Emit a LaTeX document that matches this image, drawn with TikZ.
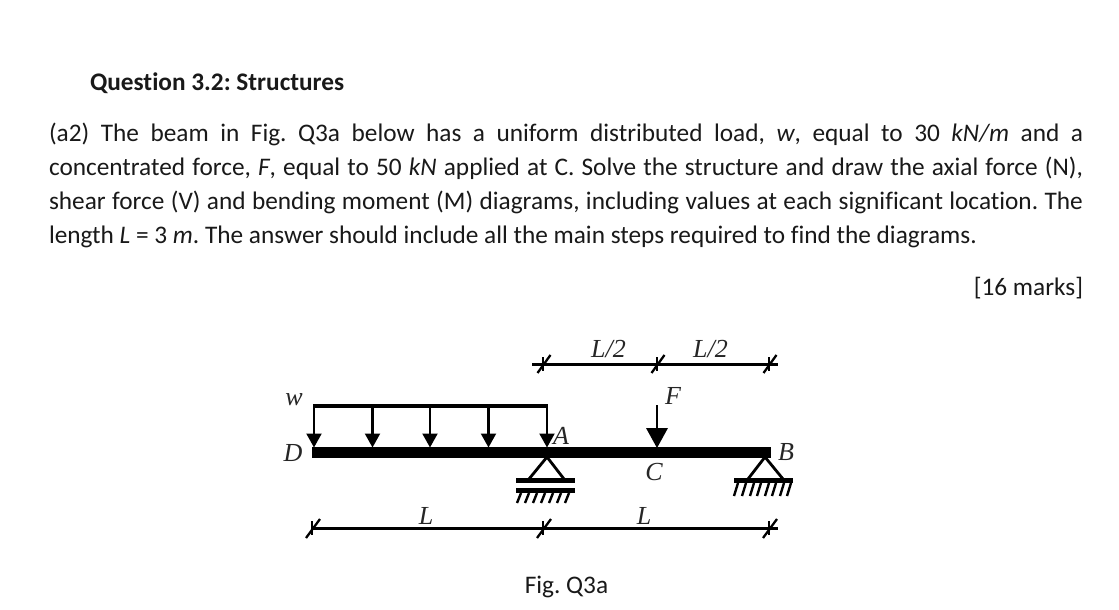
\documentclass[tikz,border=0pt]{standalone}
\usepackage{fontspec}
\setmainfont{Carlito}[Ligatures=NoCommon]
\newfontfamily\serifl{Liberation Serif}
\usetikzlibrary{arrows.meta}
\tikzset{
  x=1pt,y=-1pt,
  body/.style={anchor=base west,inner sep=0pt,outer sep=0pt,font=\fontsize{25.3}{28}\selectfont,text=black!90},
  lab/.style={inner sep=0pt,outer sep=0pt,font=\fontsize{26}{28}\selectfont\serifl\itshape,text=black!85},
  load/.style={line width=2.2pt,-{Triangle[length=14pt,width=15pt]},shorten >=-0.5pt},
  dim/.style={line width=3pt},
  tick/.style={line width=2.3pt},
  vtick/.style={line width=1.2pt},
  plate/.style={fill=black,draw=none},
  supp/.style={line width=2.8pt,line join=miter},
  hatch/.style={line width=2.4pt}
}
\newcommand{\jline}[1]{\hbox to 1034pt{#1}}
\frenchspacing
\begin{document}
\begin{tikzpicture}
\useasboundingbox (0,0) rectangle (1119,610);
\fill[white] (0,0) rectangle (1119,610);
% text
\node[body,font=\fontsize{25.3}{28}\selectfont\bfseries] (title) at (90,90) {Question 3.2: Structures};
\node[body] (l1) at (49,141) {\jline{(a2) The beam in Fig. Q3a below has a uniform distributed load, \textit{w}, equal to 30 \textit{kN/m} and a}};
\node[body] (l2) at (49,175) {\jline{concentrated force, \textit{F}, equal to 50 \textit{kN} applied at C. Solve the structure and draw the axial force (N),}};
\node[body] (l3) at (49,209) {\jline{shear force (V) and bending moment (M) diagrams, including values at each significant location. The}};
\node[body] (l4) at (49,243) {length \textit{L} = 3 \textit{m}. The answer should include all the main steps required to find the diagrams.};
\node[body,anchor=base east] (marks) at (1083,295) {[16 marks]};
\node[body,anchor=base] (cap) at (566.5,593) {Fig. Q3a};
% top dimension
\coordinate (ts) at (532,364); \coordinate (te) at (778,364);
\draw[dim] (ts) -- (te);
\foreach \x in {544,658,770} {\draw[tick] (\x-6.5,373) -- (\x+6.5,355); \draw[vtick] (\x-1,357) -- (\x-1,371);}
\node[lab] (lh1) at (608.5,349) {L/2};
\node[lab] (lh2) at (710.5,349) {L/2};
% load
\draw[line width=3.2pt] (313,406) -- (548,406);
\foreach \x in {314,372.5,430,488.5,547} \draw[load] (\x,406) -- (\x,447);
\node[lab] (w) at (294,400) {w};
% beam
\fill (312,447) rectangle (771,458);
\node[lab] (D) at (293,453) {D};
\node[lab] (A) at (561,436) {A};
\node[lab] (B) at (786,452) {B};
\node[lab] (C) at (654,472) {C};
\node[lab] (F) at (673,396) {F};
% force F
\draw[line width=2.8pt] (657,405) -- (657,430);
\fill (646,428) -- (668,428) -- (657,448) -- cycle;
% support A
\draw[supp] (529,479) -- (547,457) -- (564,479);
\fill[plate] (516,478) rectangle (575,483);
\fill[plate] (516,488) rectangle (575,493);
\foreach \x in {517,525,533,541,549,557,565} \draw[hatch] (\x,503) -- (\x+4,493);
% support B
\draw[supp] (748,479) -- (765,457) -- (783,479);
\fill[plate] (734,478) rectangle (793,483);
\foreach \x in {734,742,750,757,765,772,780,787} \draw[hatch] (\x,496) -- (\x+4,483);
% bottom dimension
\coordinate (bs) at (312,528); \coordinate (be) at (778,528);
\draw[dim] (bs) -- (be);
\foreach \x in {313,544,770} {\draw[tick] (\x-7,538) -- (\x+7,519); \draw[vtick] (\x-1,521) -- (\x-1,535);}
\node[lab] (L1) at (426,516) {L};
\node[lab] (L2) at (644,516) {L};
\end{tikzpicture}
\end{document}
